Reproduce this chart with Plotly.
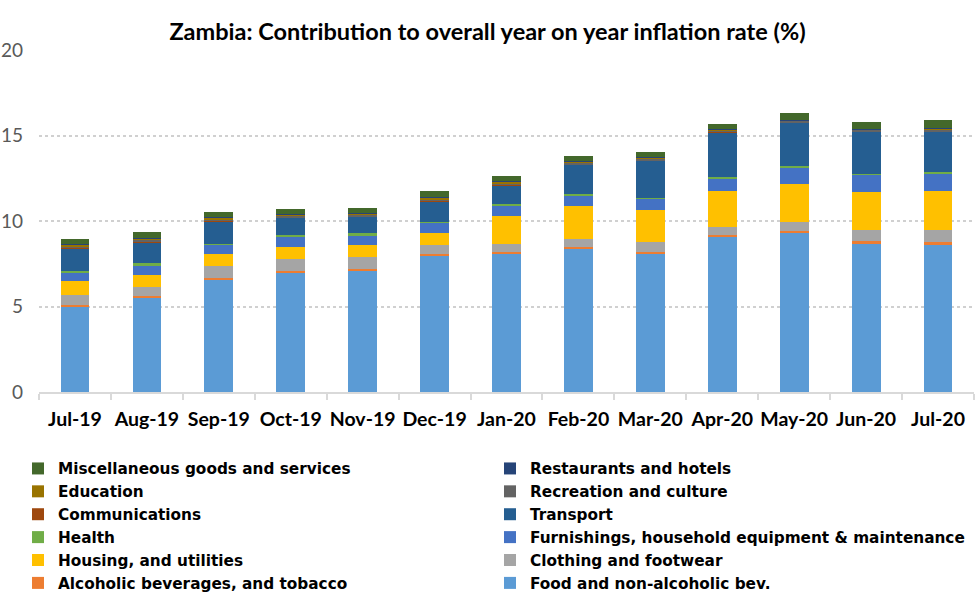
import plotly.graph_objects as go

months = ["Jul-19", "Aug-19", "Sep-19", "Oct-19", "Nov-19", "Dec-19", "Jan-20",
          "Feb-20", "Mar-20", "Apr-20", "May-20", "Jun-20", "Jul-20"]

food = [5.00, 5.53, 6.57, 6.98, 7.05, 7.97, 8.09, 8.38, 8.09, 9.08, 9.30, 8.67, 8.61]
alcohol = [0.10, 0.07, 0.12, 0.12, 0.12, 0.12, 0.12, 0.12, 0.12, 0.12, 0.10, 0.14, 0.18]
clothing = [0.58, 0.55, 0.70, 0.70, 0.70, 0.53, 0.47, 0.47, 0.58, 0.47, 0.57, 0.68, 0.70]
housing = [0.82, 0.72, 0.70, 0.70, 0.70, 0.70, 1.60, 1.90, 1.87, 2.10, 2.22, 2.22, 2.28]
furnishings = [0.47, 0.55, 0.53, 0.58, 0.58, 0.58, 0.58, 0.58, 0.64, 0.70, 0.94, 0.99, 0.99]
health = [0.12, 0.10, 0.06, 0.12, 0.12, 0.06, 0.12, 0.12, 0.06, 0.12, 0.06, 0.06, 0.12]
transport = [1.28, 1.25, 1.30, 0.98, 0.98, 1.18, 1.10, 1.72, 2.17, 2.60, 2.55, 2.45, 2.35]
communications = [0.03, 0.03, 0.03, 0.03, 0.03, 0.03, 0.03, 0.03, 0.03, 0.03, 0.03, 0.03, 0.03]
recreation = [0.12, 0.10, 0.10, 0.10, 0.08, 0.10, 0.10, 0.10, 0.10, 0.10, 0.08, 0.10, 0.10]
education = [0.10, 0.06, 0.10, 0.08, 0.10, 0.08, 0.08, 0.05, 0.05, 0.05, 0.03, 0.03, 0.03]
restaurants = [0.03, 0.02, 0.03, 0.03, 0.03, 0.03, 0.03, 0.03, 0.03, 0.03, 0.03, 0.03, 0.03]
misc = [0.30, 0.35, 0.27, 0.29, 0.29, 0.35, 0.29, 0.29, 0.29, 0.29, 0.41, 0.41, 0.47]

# (name, values, colour, legend column)
series = [
    ("Food and non-alcoholic bev.", food, "#5B9BD5", "legend2"),
    ("Alcoholic beverages, and tobacco", alcohol, "#ED7D31", "legend"),
    ("Clothing and footwear", clothing, "#A5A5A5", "legend2"),
    ("Housing, and utilities", housing, "#FFC000", "legend"),
    ("Furnishings, household equipment & maintenance", furnishings, "#4472C4", "legend2"),
    ("Health", health, "#70AD47", "legend"),
    ("Transport", transport, "#255E91", "legend2"),
    ("Communications", communications, "#9E480E", "legend"),
    ("Recreation and culture", recreation, "#636363", "legend2"),
    ("Education", education, "#997300", "legend"),
    ("Restaurants and hotels", restaurants, "#264478", "legend2"),
    ("Miscellaneous goods and services", misc, "#43682B", "legend"),
]

FONT = "Lato"
LEG_FONT = dict(size=15.3, weight="bold", family="DejaVu Sans", color="#000000")

fig = go.Figure()
for name, vals, color, leg in series:
    fig.add_trace(go.Bar(x=months, y=vals, name=name, legend=leg,
                         marker=dict(color=color, line=dict(width=0))))

legend_common = dict(orientation="v", traceorder="reversed",
                     xref="container", yref="container", xanchor="left",
                     y=1 - 452 / 602, yanchor="top", tracegroupgap=0,
                     font=LEG_FONT, itemclick=False, bgcolor="rgba(0,0,0,0)")

fig.update_layout(
    barmode="stack",
    bargap=0.6,
    width=975, height=602,
    margin=dict(l=39, r=1, t=50, b=210, autoexpand=False),
    plot_bgcolor="white", paper_bgcolor="white",
    font=dict(family=FONT, color="#000000"),
    title=dict(text="Zambia: Contribution to overall year on year inflation rate (%)",
               x=0.5, xref="container", xanchor="center",
               y=1 - 32 / 602, yref="container", yanchor="middle",
               font=dict(size=23.5, weight="bold", family=FONT, color="#000000")),
    xaxis=dict(showline=True, linecolor="#D9D9D9", linewidth=2,
               ticks="outside", tickson="boundaries", ticklen=6, tickcolor="#D9D9D9",
               tickwidth=2, ticklabelstandoff=9, tickangle=0, automargin=False,
               tickfont=dict(size=19.5, weight="bold", family=FONT, color="#000000"),
               range=[-0.5, 12.5]),
    yaxis=dict(range=[0, 20], dtick=5, showgrid=True, gridcolor="#D0D0D0",
               griddash="dot", gridwidth=1.5, zeroline=False, automargin=False,
               tickfont=dict(size=19, family=FONT, color="#595959"),
               ticklabelstandoff=15),
    legend=dict(x=18 / 975, **legend_common),
    legend2=dict(x=490 / 975, **legend_common),
)

fig.write_html("out.html")
